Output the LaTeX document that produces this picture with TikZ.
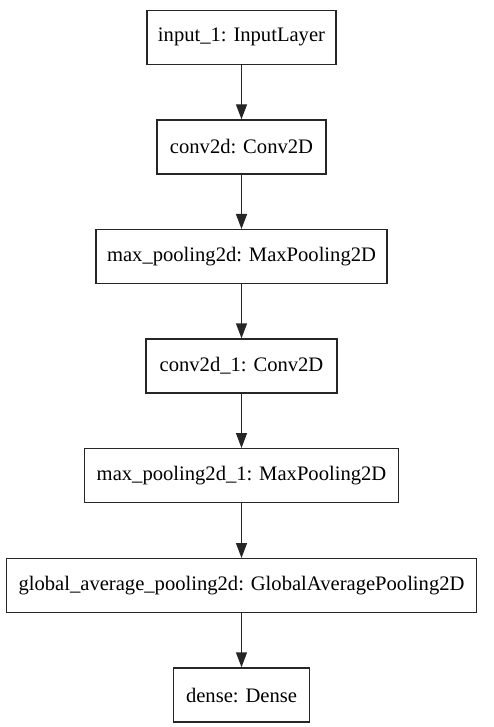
\documentclass[tikz,border=0pt]{standalone}
\usepackage{fontspec}
\setmainfont{Liberation Serif}
\usetikzlibrary{arrows.meta}
\begin{document}
\begin{tikzpicture}[x=1pt,y=-1pt,
  layer/.style={draw=black!85,line width=1.4pt,rectangle,minimum height=54pt,inner sep=0pt,font=\rmfamily\fontsize{20.6}{24}\selectfont,anchor=center},
  edge/.style={draw=black!85,line width=1.4pt,-{Triangle[length=15pt,width=11pt]}}]
\useasboundingbox (0,0) rectangle (494,727);
\node[layer,minimum width=189pt] (n1) at (241.5,37.3) {input\_1: InputLayer};
\node[layer,minimum width=169pt] (n2) at (241.5,147) {conv2d: Conv2D};
\node[layer,minimum width=291pt] (n3) at (241.5,256.7) {max\_pooling2d: MaxPooling2D};
\node[layer,minimum width=191pt] (n4) at (241.5,366) {conv2d\_1: Conv2D};
\node[layer,minimum width=314pt] (n5) at (241.5,475.7) {max\_pooling2d\_1: MaxPooling2D};
\node[layer,minimum width=470pt] (n6) at (241.5,585.7) {global\_average\_pooling2d: GlobalAveragePooling2D};
\node[layer,minimum width=136pt] (n7) at (241.5,695) {dense: Dense};
\draw[edge] (n1) -- (n2);
\draw[edge] (n2) -- (n3);
\draw[edge] (n3) -- (n4);
\draw[edge] (n4) -- (n5);
\draw[edge] (n5) -- (n6);
\draw[edge] (n6) -- (n7);
\end{tikzpicture}
\end{document}
